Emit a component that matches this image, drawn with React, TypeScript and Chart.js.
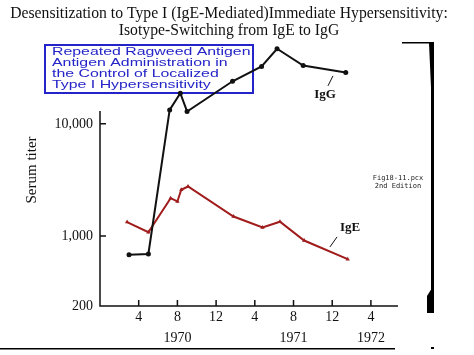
import React, { useEffect, useRef } from "react";
import { Chart, registerables } from "chart.js";
Chart.register(...registerables);

const titleLines = [
  "Desensitization to Type I (IgE-Mediated)Immediate Hypersensitivity:",
  "Isotype-Switching from IgE to IgG",
];
const boxLines = [
  "Repeated Ragweed Antigen",
  "Antigen Administration in",
  "the Control of Localized",
  "Type I Hypersensitivity",
];
const yAxisTitle = "Serum titer";
const noteLines = ["Fig18-11.pcx", "2nd Edition"];

// months counted from Jan 1970
const igGMonths = [3, 5, 7.2, 8.3, 9, 13.7, 16.7, 18.3, 21, 25.4];
const igGValues = [680, 690, 13300, 18800, 12900, 24000, 32500, 46800, 33100, 28700];
const igEMonths = [2.8, 5, 7.3, 8, 8.4, 9.1, 13.8, 16.8, 18.6, 21.1, 25.6];
const igEValues = [1330, 1080, 2170, 2030, 2580, 2760, 1490, 1190, 1340, 910, 620];

const xTickValues = [4, 8, 12, 16, 20, 24, 28];
const xTickLabels = [["4"], ["8", "1970"], ["12"], ["4"], ["8", "1971"], ["12"], ["4", "1972"]];
const xMin = 0;
const xMax = 30.8;
const yMin = 237;
const yMax = 56000;
const yAxisTop = 13000;
const yTickValues = [yMin, 1000, 10000];
const yTickLabels = ["200", "1,000", "10,000"];

const seriesNames = ["IgG", "IgE"];
const nameAnchors = [
  { x: 23.26, y: 18150, x1: 24.08, y1: 26800, x2: 23.56, y2: 21800 },
  { x: 25.84, y: 1178, x1: 24.5, y1: 980, x2: 23.77, y2: 798 },
];

const SERIF = "'Liberation Serif', 'Times New Roman', serif";
const SANS = "'Liberation Sans', Arial, sans-serif";
const MONO = "'DejaVu Sans Mono', monospace";
const BLUE = "#2424c8";
const RED = "#a01c1c";
const INK = "#111";

const decor = {
  id: "decor",
  beforeDatasetsDraw(chart: any) {
    const ctx = chart.ctx as CanvasRenderingContext2D;
    const { left, right, bottom } = chart.chartArea;
    const xs = chart.scales.x;
    const ys = chart.scales.y;
    ctx.save();
    // title
    ctx.fillStyle = INK;
    ctx.font = `15.7px ${SERIF}`;
    ctx.textAlign = "center";
    ctx.textBaseline = "middle";
    ctx.fillText(titleLines[0], 229, 14);
    ctx.fillText(titleLines[1], 229, 31);
    // blue box
    ctx.strokeStyle = BLUE;
    ctx.lineWidth = 2;
    ctx.strokeRect(45, 45, 208, 48);
    ctx.fillStyle = BLUE;
    ctx.font = `11.5px ${SANS}`;
    ctx.textAlign = "left";
    ctx.textBaseline = "alphabetic";
    boxLines.forEach((t, i) => {
      ctx.save();
      ctx.translate(52, 55 + 11 * i);
      ctx.scale(1.38, 1);
      ctx.fillText(t, 0, 0);
      ctx.restore();
    });
    // axes
    ctx.strokeStyle = INK;
    ctx.lineWidth = 1.5;
    ctx.beginPath();
    ctx.moveTo(left, ys.getPixelForValue(yAxisTop));
    ctx.lineTo(left, bottom);
    ctx.lineTo(right, bottom);
    xTickValues.forEach((v) => {
      const p = xs.getPixelForValue(v);
      ctx.moveTo(p, bottom);
      ctx.lineTo(p, bottom - 6);
    });
    yTickValues.slice(1).forEach((v) => {
      const p = ys.getPixelForValue(v);
      ctx.moveTo(left, p);
      ctx.lineTo(left + 6, p);
    });
    ctx.stroke();
    // y title
    ctx.save();
    ctx.translate(32, 170);
    ctx.rotate(-Math.PI / 2);
    ctx.fillStyle = INK;
    ctx.font = `15px ${SERIF}`;
    ctx.textAlign = "center";
    ctx.textBaseline = "middle";
    ctx.fillText(yAxisTitle, 0, 0);
    ctx.restore();
    // figure note
    ctx.fillStyle = "#222";
    ctx.font = `7px ${MONO}`;
    ctx.textAlign = "center";
    ctx.fillText(noteLines[0], 398, 180);
    ctx.fillText(noteLines[1], 398, 188);
    // right border artefacts and bottom rule
    ctx.fillStyle = "#000";
    ctx.fillRect(431, 43, 3, 270);
    ctx.fillRect(402, 42, 32, 1.5);
    ctx.beginPath();
    ctx.moveTo(429, 43);
    ctx.lineTo(434, 43);
    ctx.lineTo(434, 110);
    ctx.lineTo(432, 110);
    ctx.closePath();
    ctx.fill();
    ctx.beginPath();
    ctx.moveTo(432, 288);
    ctx.lineTo(434, 288);
    ctx.lineTo(434, 313);
    ctx.lineTo(427, 313);
    ctx.lineTo(427, 296);
    ctx.closePath();
    ctx.fill();
    ctx.fillRect(431, 347, 3, 2);
    ctx.fillRect(0, 348, 395, 1.5);
    ctx.restore();
  },
  afterDatasetsDraw(chart: any) {
    const ctx = chart.ctx as CanvasRenderingContext2D;
    const xs = chart.scales.x;
    const ys = chart.scales.y;
    ctx.save();
    ctx.fillStyle = INK;
    ctx.strokeStyle = INK;
    ctx.lineWidth = 1;
    ctx.font = `bold 13px ${SERIF}`;
    ctx.textAlign = "center";
    ctx.textBaseline = "middle";
    seriesNames.forEach((n, i) => {
      const a = nameAnchors[i];
      ctx.fillText(n, xs.getPixelForValue(a.x), ys.getPixelForValue(a.y));
      ctx.beginPath();
      ctx.moveTo(xs.getPixelForValue(a.x1), ys.getPixelForValue(a.y1));
      ctx.lineTo(xs.getPixelForValue(a.x2), ys.getPixelForValue(a.y2));
      ctx.stroke();
    });
    ctx.restore();
  },
};

export default function App() {
  const ref = useRef<HTMLCanvasElement>(null);
  useEffect(() => {
    if (!ref.current) return;
    const chart = new Chart(ref.current, {
      type: "line",
      data: {
        datasets: [
          {
            label: seriesNames[0],
            data: igGMonths.map((m, i) => ({ x: m, y: igGValues[i] })),
            borderColor: INK,
            backgroundColor: INK,
            borderWidth: 2,
            pointRadius: 2.5,
            pointBorderWidth: 0,
            tension: 0,
          },
          {
            label: seriesNames[1],
            data: igEMonths.map((m, i) => ({ x: m, y: igEValues[i] })),
            borderColor: RED,
            backgroundColor: RED,
            borderWidth: 2,
            pointStyle: "triangle",
            pointRadius: 2.5,
            pointBorderWidth: 0,
            tension: 0,
          },
        ],
      },
      options: {
        responsive: false,
        animation: false,
        layout: { padding: { top: 40, right: 76, bottom: 0, left: 0 } },
        plugins: { legend: { display: false }, tooltip: { enabled: false }, title: { display: false } },
        scales: {
          x: {
            type: "linear",
            min: xMin,
            max: xMax,
            grid: { display: false, drawTicks: false },
            border: { display: false },
            afterBuildTicks: (s: any) => {
              s.ticks = xTickValues.map((v) => ({ value: v }));
            },
            afterFit: (s: any) => {
              s.height = 49;
            },
            ticks: {
              autoSkip: false,
              maxRotation: 0,
              padding: 1,
              color: INK,
              font: { family: SERIF, size: 14, lineHeight: 1.5 },
              callback: (_v: any, i: number) => xTickLabels[i],
            },
          },
          y: {
            type: "logarithmic",
            min: yMin,
            max: yMax,
            grid: { display: false, drawTicks: false },
            border: { display: false },
            afterBuildTicks: (s: any) => {
              s.ticks = yTickValues.map((v) => ({ value: v }));
            },
            afterFit: (s: any) => {
              s.width = 100;
            },
            ticks: {
              autoSkip: false,
              padding: 7,
              color: INK,
              font: { family: SERIF, size: 14 },
              callback: (_v: any, i: number) => yTickLabels[i],
            },
          },
        },
      },
      plugins: [decor],
    } as any);
    return () => chart.destroy();
  }, []);
  return (
    <div style={{ position: "absolute", left: 0, top: 0, width: 474, height: 355, background: "#fff" }}>
      <canvas ref={ref} width={474} height={355} />
    </div>
  );
}
